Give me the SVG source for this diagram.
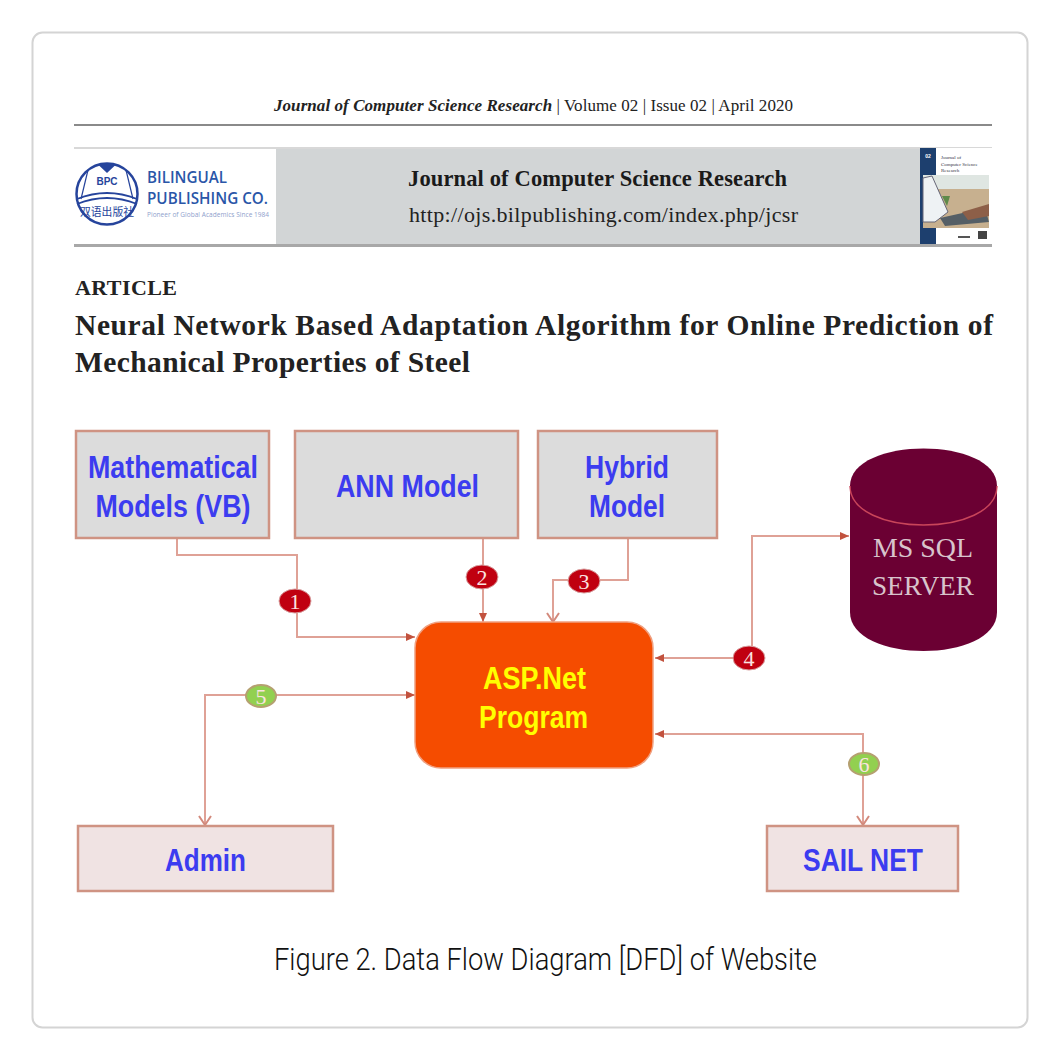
<svg xmlns="http://www.w3.org/2000/svg" width="1060" height="1060" viewBox="0 0 1060 1060">
<style>
.s{font-family:"Liberation Serif",serif}
.a{font-family:"Liberation Sans",Arial,sans-serif;font-weight:bold;fill:#3c3cf0;text-anchor:middle;font-size:32px}
.box{fill:#dcdcdc;stroke:#cf9383;stroke-width:2.500}
.ext{fill:#f0e3e3;stroke:#cf9383;stroke-width:2.500}
.c{fill:none;stroke:#dfa196;stroke-width:2}
.n{font-family:"Liberation Serif",serif;font-size:22px;fill:#fbe3e0;text-anchor:middle}
.r{fill:#c00010;stroke:#d8a0a0;stroke-width:1}
.g{fill:#92d050;stroke:#b5a070;stroke-width:2}
</style>
<defs>
<marker id="t" markerUnits="userSpaceOnUse" markerWidth="11" markerHeight="10" refX="9" refY="5" orient="auto-start-reverse"><path d="M0 1L9 5L0 9Z" fill="#c2523e"/></marker>
<marker id="o" markerUnits="userSpaceOnUse" markerWidth="13" markerHeight="14" refX="11" refY="7" orient="auto"><path d="M2 1L11 7L2 13" fill="none" stroke="#d38a7c" stroke-width="2"/></marker>
</defs>
<rect width="1060" height="1060" fill="#fff"/>
<rect x="32.500" y="32.500" width="995" height="995" rx="10" fill="#fff" stroke="#d4d4d4" stroke-width="2"/>
<g id="header">
<text x="274" y="111" class="s" font-size="17" fill="#222" textLength="519"><tspan font-weight="bold" font-style="italic">Journal of Computer Science Research</tspan> | Volume 02 | Issue 02 | April 2020</text>
<rect x="74" y="124" width="918" height="2" fill="#8a8a8a"/>
<rect x="276" y="148" width="644" height="96" fill="#d2d5d6"/>
<rect x="74" y="147" width="918" height="2" fill="#d8d8d8"/>
<rect x="74" y="244" width="918" height="3" fill="#a8a8a8"/>
<text x="408" y="186" class="s" font-size="22.500" font-weight="bold" fill="#1a1a1a" textLength="379">Journal of Computer Science Research</text>
<text x="409" y="222" class="s" font-size="22" fill="#222" textLength="389">http://ojs.bilpublishing.com/index.php/jcsr</text>
</g>
<g id="logo">
<circle cx="107" cy="194" r="30.500" fill="#fff" stroke="#26449c" stroke-width="2.500"/>
<path d="M98 164.500Q107 162 116 164.500L107 173Z" fill="#26449c"/>
<path d="M77 199Q107 187 137 199M77 204Q107 192 137 204" fill="none" stroke="#26449c" stroke-width="1.800"/>
<path d="M88 170L81 199M126 170L133 199" fill="none" stroke="#26449c" stroke-width="1.200"/>
<text x="107" y="185" font-family="Liberation Sans,sans-serif" font-size="10" font-weight="bold" fill="#26449c" text-anchor="middle">BPC</text>
<text x="107" y="216" font-family="'Noto Sans CJK SC',sans-serif" font-size="11.500" fill="#26449c" text-anchor="middle" textLength="54" lengthAdjust="spacingAndGlyphs">双语出版社</text>
<text x="147" y="183" font-family="Open Sans,sans-serif" font-size="15.500" font-weight="600" fill="#2a56a8" textLength="80" lengthAdjust="spacingAndGlyphs">BILINGUAL</text>
<text x="147" y="204" font-family="Open Sans,sans-serif" font-size="15.500" font-weight="600" fill="#2a56a8" textLength="121" lengthAdjust="spacingAndGlyphs">PUBLISHING CO.</text>
<text x="147" y="217" font-family="Open Sans,sans-serif" font-size="6.500" fill="#8fa0cc" textLength="122">Pioneer of Global Academics Since 1984</text>
</g>
<g id="cover">
<rect x="920" y="148" width="72" height="96" fill="#fff"/>
<rect x="920" y="148" width="16" height="31" fill="#1d3f6e"/>
<rect x="920" y="222" width="16" height="22" fill="#1d3f6e"/>
<rect x="920" y="179" width="3" height="43" fill="#1d3f6e"/>
<text x="928" y="158" font-family="Liberation Sans,sans-serif" font-size="5" font-weight="bold" fill="#fff" text-anchor="middle">02</text>
<text x="941" y="159" class="s" font-size="5" fill="#334">Journal of</text>
<text x="941" y="166" class="s" font-size="5" fill="#334">Computer Science</text>
<text x="941" y="172" class="s" font-size="5" fill="#334">Research</text>
<rect x="923" y="175" width="66" height="53" fill="#c7b08f"/>
<rect x="923" y="175" width="66" height="14" fill="#dfe6e2"/>
<path d="M923 178L932 176L948 212L935 222L923 222Z" fill="#eef2f4" stroke="#667" stroke-width="1"/>
<path d="M940 218L985 208L989 222L945 226Z" fill="#555f66"/>
<path d="M962 212L989 204L989 216L968 220Z" fill="#8d5f48"/>
<path d="M942 196L947 206L950 196Z" fill="#5f8a4a"/>
<rect x="978" y="231" width="9" height="8" fill="#444"/>
<rect x="958" y="236" width="12" height="2" fill="#555"/>
</g>
<g id="title">
<text x="75" y="295" class="s" font-size="22" font-weight="bold" fill="#222" textLength="102">ARTICLE</text>
<text x="75" y="335" class="s" font-size="29.500" font-weight="bold" fill="#222" textLength="918">Neural Network Based Adaptation Algorithm for Online Prediction of</text>
<text x="75" y="372" class="s" font-size="29.500" font-weight="bold" fill="#222" textLength="395">Mechanical Properties of Steel</text>
</g>
<g id="connectors">
<path class="c" d="M177 538V555H297V637H415" marker-end="url(#t)"/>
<path class="c" d="M483 538V622" marker-end="url(#t)"/>
<path class="c" d="M628 538V580H553V622" marker-end="url(#o)"/>
<path class="c" d="M849 536H752V658H655" marker-start="url(#t)" marker-end="url(#t)"/>
<path class="c" d="M415 695H205V825" marker-start="url(#t)" marker-end="url(#o)"/>
<path class="c" d="M655 734H863V825" marker-start="url(#t)" marker-end="url(#o)"/>
</g>
<g id="n1"><rect class="box" x="76" y="431" width="193" height="107"/><text class="a" x="173" y="478" textLength="170" lengthAdjust="spacingAndGlyphs">Mathematical</text><text class="a" x="173" y="517" textLength="155" lengthAdjust="spacingAndGlyphs">Models (VB)</text></g>
<g id="n2"><rect class="box" x="295" y="431" width="223" height="107"/><text class="a" x="407.500" y="497" textLength="143" lengthAdjust="spacingAndGlyphs">ANN Model</text></g>
<g id="n3"><rect class="box" x="538" y="431" width="179" height="107"/><text class="a" x="627" y="478" textLength="84" lengthAdjust="spacingAndGlyphs">Hybrid</text><text class="a" x="627" y="517" textLength="76" lengthAdjust="spacingAndGlyphs">Model</text></g>
<g id="db">
<path d="M850 486C850 436 997 436 997 486V612C997 664 850 664 850 612Z" fill="#6b0033"/>
<path d="M850 486C850 538 997 538 997 486" fill="none" stroke="#c9455a" stroke-width="1.500"/>
<text class="s" x="923" y="557" font-size="27" fill="#d8c4cc" text-anchor="middle" textLength="100" lengthAdjust="spacingAndGlyphs">MS SQL</text>
<text class="s" x="923" y="595" font-size="27" fill="#d8c4cc" text-anchor="middle" textLength="102" lengthAdjust="spacingAndGlyphs">SERVER</text>
</g>
<g id="asp">
<rect x="415" y="622" width="238" height="146" rx="26" fill="#f54c00" stroke="#f0a080" stroke-width="1.500"/>
<text class="a" x="534.500" y="689" style="fill:#ffff00" textLength="103" lengthAdjust="spacingAndGlyphs">ASP.Net</text>
<text class="a" x="533.500" y="728" style="fill:#ffff00" textLength="109" lengthAdjust="spacingAndGlyphs">Program</text>
</g>
<g id="admin"><rect class="ext" x="78" y="826" width="255" height="65"/><text class="a" x="205.500" y="871" textLength="81" lengthAdjust="spacingAndGlyphs">Admin</text></g>
<g id="sail"><rect class="ext" x="767" y="826" width="191" height="65"/><text class="a" x="863" y="871" textLength="120" lengthAdjust="spacingAndGlyphs">SAIL NET</text></g>
<g id="badges">
<ellipse class="r" cx="295" cy="601" rx="16" ry="12"/><text class="n" x="295" y="609">1</text>
<ellipse class="r" cx="482" cy="577" rx="16" ry="12"/><text class="n" x="482" y="585">2</text>
<ellipse class="r" cx="584" cy="581" rx="16" ry="12"/><text class="n" x="584" y="589">3</text>
<ellipse class="r" cx="749" cy="658" rx="16" ry="12"/><text class="n" x="749" y="666">4</text>
<ellipse class="g" cx="261" cy="696" rx="15" ry="11"/><text class="n" x="261" y="704">5</text>
<ellipse class="g" cx="864" cy="764" rx="15" ry="11"/><text class="n" x="864" y="772">6</text>
</g>
<text id="caption" x="545.500" y="970" font-family="Roboto,'Liberation Sans',sans-serif" font-size="32" font-weight="300" fill="#111" text-anchor="middle" textLength="543" lengthAdjust="spacingAndGlyphs">Figure 2. Data Flow Diagram [DFD] of Website</text>
</svg>
